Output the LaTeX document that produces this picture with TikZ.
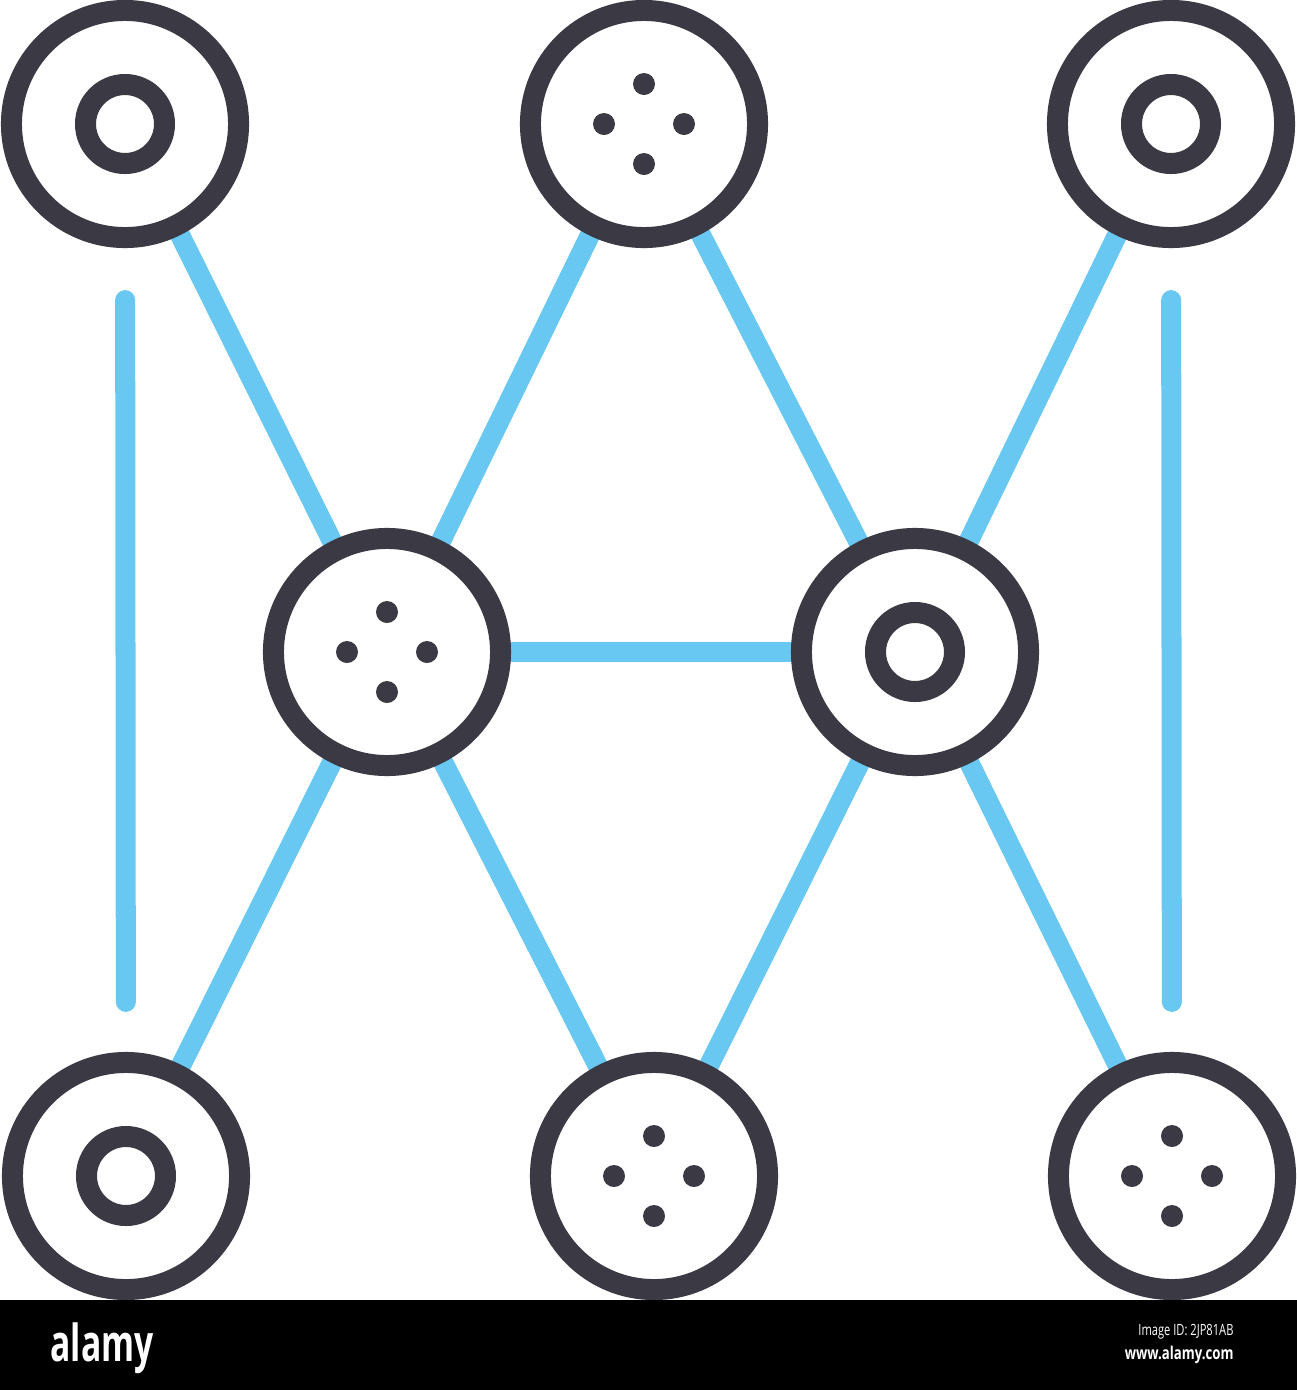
\documentclass[tikz,border=0pt]{standalone}
\usepackage{fontspec}
\usepackage{tikz}
\usetikzlibrary{backgrounds}
\definecolor{hubgray}{RGB}{59,58,68}
\definecolor{linkblue}{RGB}{104,200,242}
\newfontfamily\bannerfont{Open Sans}
\newcommand{\ringmark}[1]{\draw[hub line] (#1) circle (39.5);}
\newcommand{\dotmark}[1]{%
    \foreach \a in {0,90,180,270} {
        \fill[hubgray] (#1) ++(\a:40) circle (11);
    }}

\begin{document}
\begin{tikzpicture}[x=0.01cm,y=-0.01cm,
    hub/.style={circle,draw=hubgray,fill=white,line width=0.21cm,minimum size=2.27cm,inner sep=0pt},
    hub line/.style={draw=hubgray,line width=0.21cm},
    link/.style={draw=linkblue,line width=0.2cm,shorten <=-0.1cm,shorten >=-0.1cm},
    rail/.style={draw=linkblue,line width=0.2cm,line cap=round,shorten <=0.52cm,shorten >=0.5cm}]
    \useasboundingbox (0,0) rectangle (1297,1390);

    \node[hub] (tl) at (125,124) {};
    \node[hub] (tm) at (644,124) {};
    \node[hub] (tr) at (1171,124) {};
    \node[hub] (ml) at (387,652) {};
    \node[hub] (mr) at (915,652) {};
    \node[hub] (bl) at (126,1176) {};
    \node[hub] (bm) at (654,1176) {};
    \node[hub] (br) at (1172,1176) {};

    \ringmark{tl}
    \ringmark{tr}
    \ringmark{mr}
    \ringmark{bl}
    \dotmark{tm}
    \dotmark{ml}
    \dotmark{bm}
    \dotmark{br}

    \begin{pgfonlayer}{background}
    \path[link]
    (tl) edge (ml)
    (tm) edge (ml)
    (tm) edge (mr)
    (tr) edge (mr)

    (ml) edge (mr)

    (ml) edge (bl)
    (ml) edge (bm)
    (mr) edge (bm)
    (mr) edge (br);

    \path[rail]
    (tl) edge (bl)
    (tr) edge (br);
    \end{pgfonlayer}

    % banner
    \fill[black] (0,1300) rectangle (1297,1390);
    \node[anchor=base west,inner sep=0pt,text=white,xscale=0.66,
        font=\bannerfont\bfseries\fontsize{14.5}{15}\selectfont] (brand) at (50,1361) {alamy};
    \node[anchor=base east,inner sep=0pt,text=white,xscale=0.72,
        font=\bannerfont\fontsize{4.4}{5}\selectfont] (imgid) at (1234,1335) {Image ID: 2JP81AB};
    \node[anchor=base east,inner sep=0pt,text=white,xscale=0.75,
        font=\bannerfont\bfseries\fontsize{5}{6}\selectfont] (site) at (1234,1359) {www.alamy.com};
\end{tikzpicture}
\end{document}
